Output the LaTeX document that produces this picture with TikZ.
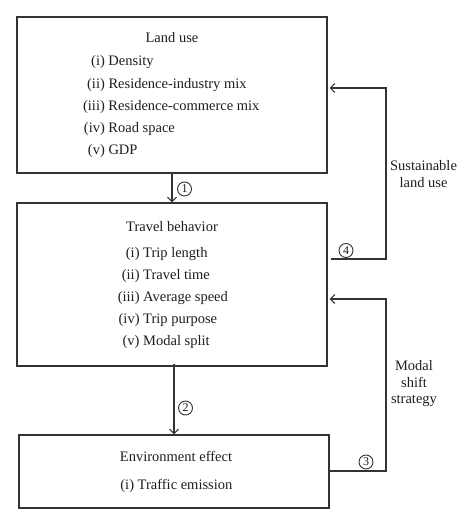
\documentclass[tikz,border=0pt]{standalone}
\usepackage{fontspec}
\setmainfont{Liberation Serif}
\usetikzlibrary{arrows.meta,calc}
\definecolor{linec}{HTML}{333333}
\definecolor{txtc}{HTML}{1E1E1E}
\begin{document}
\begin{tikzpicture}[x=1pt,y=-1pt,
  every node/.style={text=txtc},
  box/.style={draw=linec, line width=1.1pt, inner sep=0, fill=none},
  ttl/.style={anchor=base, inner sep=0, font=\fontsize{14.5}{16.5}\selectfont},
  itm/.style={anchor=base west, inner sep=0, font=\fontsize{14.5}{16.5}\selectfont},
  side/.style={align=center, inner sep=0, font=\fontsize{14.5}{16.5}\selectfont},
  circnum/.style={draw=linec, circle, line width=0.9pt, minimum size=14pt, inner sep=0, font=\fontsize{12}{12}\selectfont},
  conn/.style={draw=linec, line width=1.1pt},
  arr/.style={conn, -{Straight Barb[length=4.5pt,width=9pt,line width=1.1pt]}}
]
\useasboundingbox[fill=white] (0,0) rectangle (474,526);

% boxes
\node[box, minimum width=310pt, minimum height=156pt] (lu) at (172,95) {};
\node[box, minimum width=310pt, minimum height=163pt] (tb) at (172,284.5) {};
\node[box, minimum width=310pt, minimum height=73pt] (ee) at (174,471.5) {};

% land use text
\node[ttl] (lut) at (172,43) {Land use};
\node[itm] (lu1) at (108.3,66) {\llap{(i)\ }Density};
\node[itm] (lu2) at (108.3,88.5) {\llap{(ii)\ }Residence-industry mix};
\node[itm] (lu3) at (108.3,110.5) {\llap{(iii)\ }Residence-commerce mix};
\node[itm] (lu4) at (108.3,132.5) {\llap{(iv)\ }Road space};
\node[itm] (lu5) at (108.3,154.5) {\llap{(v)\ }GDP};

% travel behavior text
\node[ttl] (tbt) at (172,231.5) {Travel behavior};
\node[itm] (tb1) at (143,257) {\llap{(i)\ }Trip length};
\node[itm] (tb2) at (143,279) {\llap{(ii)\ }Travel time};
\node[itm] (tb3) at (143,301) {\llap{(iii)\ }Average speed};
\node[itm] (tb4) at (143,323) {\llap{(iv)\ }Trip purpose};
\node[itm] (tb5) at (143,345.5) {\llap{(v)\ }Modal split};

% environment effect text
\node[ttl] (eet) at (176,461.5) {Environment effect};
\node[itm] (ee1) at (137.5,489) {\llap{(i)\ }Traffic emission};

% connectors
\draw[arr] (lu.south) -- (tb.north);
\draw[arr] ([yshift=3pt]tb.south -| ee.north) -- (ee.north);

\coordinate (c4) at (386,259);
\coordinate (c1) at (386,88);
\draw[arr] ([xshift=3pt]tb.east |- c4) -- (c4) -- (c1) -- ([xshift=2pt]lu.east |- c1);

\coordinate (c3) at (386,471);
\coordinate (c2) at (386,299);
\draw[arr] (ee.east |- c3) -- (c3) -- (c2) -- ([xshift=2pt]tb.east |- c2);

% circled numbers
\node[circnum] (n1) at (184.5,189) {1};
\node[circnum] (n2) at (185.5,408) {2};
\node[circnum] (n3) at (366,462) {3};
\node[circnum] (n4) at (346,250.5) {4};

% side labels
\node[side] (sl) at (423.5,174) {Sustainable\\land use};
\node[side] (ms) at (414,384) {Modal\\shift\\strategy};
\end{tikzpicture}
\end{document}
